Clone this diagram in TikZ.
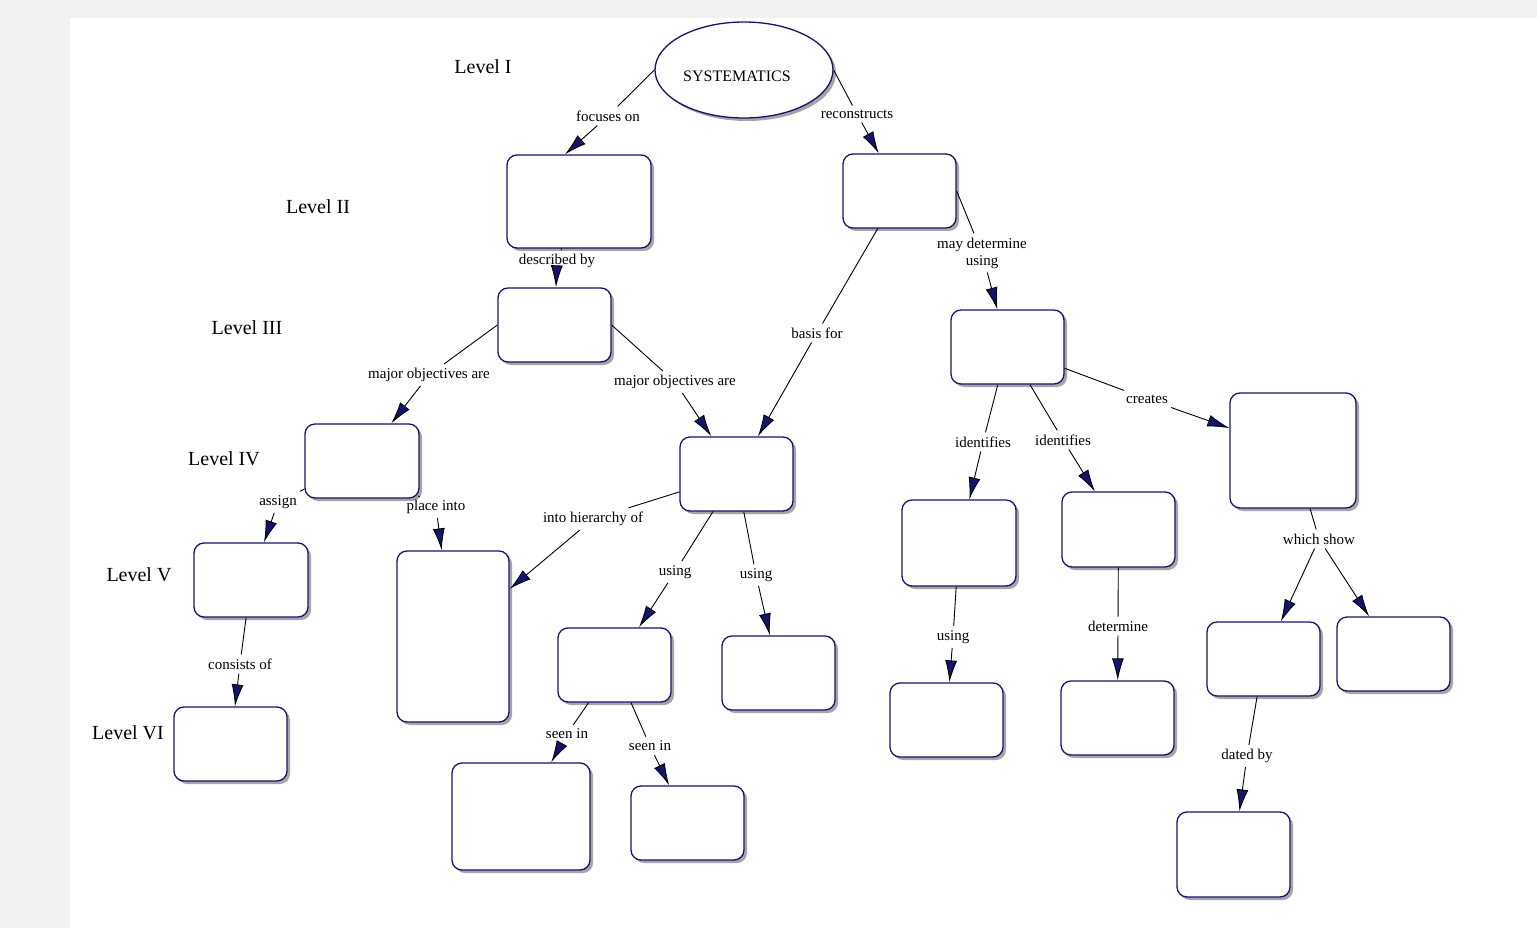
\documentclass[tikz,border=0pt]{standalone}
\usepackage{fontspec}
\setmainfont{Liberation Serif}
\usetikzlibrary{arrows.meta,shadows,shapes.geometric}
\definecolor{cnavy}{RGB}{20,20,110}
\tikzset{
  box/.style={draw=cnavy, line width=1.3pt, rounded corners=10pt, fill=white,
    drop shadow={shadow xshift=3pt, shadow yshift=-3pt, fill=gray!70, opacity=1}},
  lbl/.style={font=\fontsize{15}{17}\selectfont, inner sep=4pt, align=center},
  lvl/.style={font=\fontsize{20}{22}\selectfont},
  con/.style={line width=0.9pt},
  arr/.style={line width=0.9pt, -{Latex[length=22pt,width=12pt,fill=cnavy]}, draw=black}
}
\begin{document}
\begin{tikzpicture}[x=1pt,y=-1pt]
\useasboundingbox (0,0) rectangle (1537,928);
\fill[gray!10] (0,0) rectangle (1537,928);
\fill[white] (70,18) rectangle (1537,928);

% levels
\node[lvl] at (483,67) {Level I};
\node[lvl] at (318,207) {Level II};
\node[lvl] at (247,328) {Level III};
\node[lvl] at (224,459) {Level IV};
\node[lvl] at (139,575) {Level V};
\node[lvl] at (128,733) {Level VI};

% concepts
\node[ellipse, draw=cnavy, line width=1.3pt, fill=white, minimum width=178pt, minimum height=96pt,
  drop shadow={shadow xshift=3pt, shadow yshift=-3pt, fill=gray!70, opacity=1},
  font=\fontsize{16}{18}\selectfont] (sys) at (744,70) {};
\node[font=\fontsize{16}{18}\selectfont] at (737,76) {SYSTEMATICS};
\node[box, minimum width=144pt, minimum height=93pt] (l2a) at (579,201.5) {};
\node[box, minimum width=113pt, minimum height=74pt] (l2b) at (899.5,191) {};
\node[box, minimum width=113pt, minimum height=74pt] (l3) at (554.5,325) {};
\node[box, minimum width=114pt, minimum height=74pt] (l4a) at (362,461) {};
\node[box, minimum width=113pt, minimum height=74pt] (l4b) at (736.5,474) {};
\node[box, minimum width=113pt, minimum height=74pt] (l3r) at (1007.5,347) {};
\node[box, minimum width=126pt, minimum height=115pt] (cr) at (1293,450.5) {};
\node[box, minimum width=114pt, minimum height=74pt] (l5a) at (251,580) {};
\node[box, minimum width=112pt, minimum height=171pt] (tall) at (453,636.5) {};
\node[box, minimum width=114pt, minimum height=86pt] (id1) at (959,543) {};
\node[box, minimum width=113pt, minimum height=75pt] (id2) at (1118.5,529.5) {};
\node[box, minimum width=113pt, minimum height=74pt] (ub) at (614.5,665) {};
\node[box, minimum width=113pt, minimum height=74pt] (ub2) at (778.5,673) {};
\node[box, minimum width=113pt, minimum height=74pt] (l6) at (230.5,744) {};
\node[box, minimum width=138pt, minimum height=107pt] (s1) at (521,816.5) {};
\node[box, minimum width=113pt, minimum height=74pt] (s2) at (687.5,823) {};
\node[box, minimum width=113pt, minimum height=74pt] (u3) at (946.5,720) {};
\node[box, minimum width=113pt, minimum height=74pt] (db) at (1117.5,718) {};
\node[box, minimum width=113pt, minimum height=74pt] (w1) at (1263.5,659) {};
\node[box, minimum width=113pt, minimum height=74pt] (w2) at (1393.5,654) {};
\node[box, minimum width=113pt, minimum height=85pt] (dt) at (1233.5,854.5) {};

% linking phrases
\node[lbl] (t1) at (608,116) {focuses on};
\node[lbl] (t2) at (857,114) {reconstructs};
\node[lbl] (t3) at (557,261) {described by};
\node[lbl] (t4) at (982,253) {may determine\\using};
\node[lbl] (t5) at (817,333) {basis for};
\node[lbl] (t6) at (429,375) {major objectives are};
\node[lbl] (t7) at (675,382) {major objectives are};
\node[lbl] (t8) at (983,442) {identifies};
\node[lbl] (t9) at (1063,440) {identifies};
\node[lbl] (t10) at (1147,399) {creates};
\node[lbl] (t11) at (278,502) {assign};
\node[lbl] (t12) at (436,507) {place into};
\node[lbl] (t13) at (593,519) {into hierarchy of};
\node[lbl] (t14) at (675,572) {using};
\node[lbl] (t15) at (756,575) {using};
\node[lbl] (t16) at (1319,539) {which show};
\node[lbl] (t17) at (240,664) {consists of};
\node[lbl] (t18) at (953,637) {using};
\node[lbl] (t19) at (1118,626) {determine};
\node[lbl] (t20) at (567,734) {seen in};
\node[lbl] (t21) at (650,746) {seen in};
\node[lbl] (t22) at (1247,756) {dated by};

% connectors
\draw[con] (sys.west) -- (t1); \draw[arr] (t1) -- (l2a.north west -| 565,0);
\draw[con] (sys.east) -- (t2); \draw[arr] (t2) -- (l2b);
\draw[con] (l2a) -- (t3); \draw[arr] (t3) -- (l3);
\draw[con] (l2b.east) -- (t4); \draw[arr] (t4) -- (l3r);
\draw[con] (l2b) -- (t5); \draw[arr] (t5) -- (l4b);
\draw[con] (l3.west) -- (t6); \draw[arr] (t6) -- (l4a);
\draw[con] (l3.east) -- (t7); \draw[arr] (t7) -- (l4b);
\draw[con] (l3r) -- (t8); \draw[arr] (t8) -- (id1);
\draw[con] (l3r) -- (t9); \draw[arr] (t9) -- (id2);
\draw[con] (l3r) -- (t10); \draw[arr] (t10) -- (cr);
\draw[con] (l4a) -- (t11); \draw[arr] (t11) -- (l5a);
\draw[con] (l4a) -- (t12); \draw[arr] (t12) -- (tall);
\draw[con] (l4b) -- (t13); \draw[arr] (t13) -- (tall);
\draw[con] (l4b) -- (t14); \draw[arr] (t14) -- (ub);
\draw[con] (l4b) -- (t15); \draw[arr] (t15) -- (ub2);
\draw[con] (cr) -- (t16); \draw[arr] (t16) -- (w1); \draw[arr] (t16) -- (w2);
\draw[con] (l5a) -- (t17); \draw[arr] (t17) -- (l6);
\draw[con] (id1) -- (t18); \draw[arr] (t18) -- (u3);
\draw[con] (id2) -- (t19); \draw[arr] (t19) -- (db);
\draw[con] (ub) -- (t20); \draw[arr] (t20) -- (s1);
\draw[con] (ub) -- (t21); \draw[arr] (t21) -- (s2);
\draw[con] (w1) -- (t22); \draw[arr] (t22) -- (dt);
\end{tikzpicture}
\end{document}
